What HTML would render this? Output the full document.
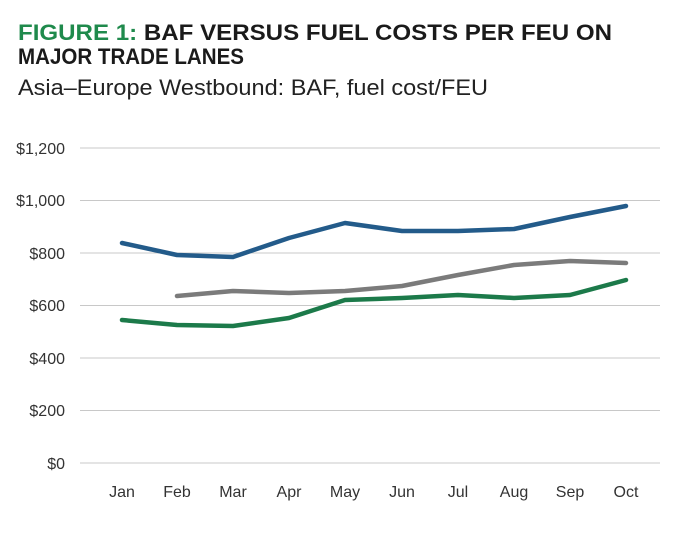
<!DOCTYPE html>
<html><head><meta charset="utf-8"><style>
html,body{margin:0;padding:0;background:#fff;}
svg{display:block;}
</style></head><body>
<svg width="696" height="542" xmlns="http://www.w3.org/2000/svg" font-family="Liberation Sans, sans-serif">
<rect width="696" height="542" fill="#fff"/>
<text x="18" y="40" font-size="22" font-weight="bold" fill="#1a1a1a" textLength="594" lengthAdjust="spacingAndGlyphs"><tspan fill="#1f8a4c">FIGURE 1:</tspan> BAF VERSUS FUEL COSTS PER FEU ON</text>
<text x="18" y="64" font-size="22" font-weight="bold" fill="#1a1a1a" textLength="226" lengthAdjust="spacingAndGlyphs">MAJOR TRADE LANES</text>
<text x="18" y="95" font-size="22" fill="#222" textLength="470" lengthAdjust="spacingAndGlyphs">Asia–Europe Westbound: BAF, fuel cost/FEU</text>
<g stroke="#c8c8c8" stroke-width="1">
<line x1="80" x2="660" y1="148" y2="148"/>
<line x1="80" x2="660" y1="200.5" y2="200.5"/>
<line x1="80" x2="660" y1="253" y2="253"/>
<line x1="80" x2="660" y1="305.5" y2="305.5"/>
<line x1="80" x2="660" y1="358" y2="358"/>
<line x1="80" x2="660" y1="410.5" y2="410.5"/>
<line x1="80" x2="660" y1="463" y2="463"/>
</g>
<g font-size="16" fill="#333" text-anchor="end">
<text x="65" y="154">$1,200</text>
<text x="65" y="206">$1,000</text>
<text x="65" y="259">$800</text>
<text x="65" y="311">$600</text>
<text x="65" y="364">$400</text>
<text x="65" y="416">$200</text>
<text x="65" y="469">$0</text>
</g>
<g font-size="16" fill="#333" text-anchor="middle">
<text x="122" y="497">Jan</text><text x="177" y="497">Feb</text><text x="233" y="497">Mar</text><text x="289" y="497">Apr</text><text x="345" y="497">May</text><text x="402" y="497">Jun</text><text x="458" y="497">Jul</text><text x="514" y="497">Aug</text><text x="570" y="497">Sep</text><text x="626" y="497">Oct</text>
</g>
<g fill="none" stroke-width="4.5" stroke-linejoin="round" stroke-linecap="round">
<polyline stroke="#235b8a" points="122,243 177,255 233,257 289,238 345,223 402,231 458,231 514,229 570,217 626,206"/>
<polyline stroke="#7b7b7b" points="177,296 233,291 289,293 345,291 402,286 458,275 514,265 570,261 626,263"/>
<polyline stroke="#1c7a4a" points="122,320 177,325 233,326 289,318 345,300 402,298 458,295 514,298 570,295 626,280"/>
</g>
</svg>
</body></html>
